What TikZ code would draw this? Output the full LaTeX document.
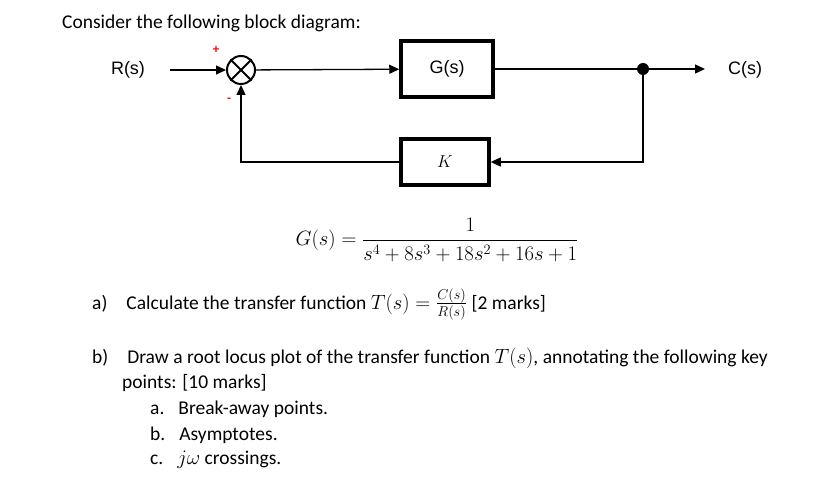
\documentclass[tikz,border=0pt]{standalone}
\usepackage{fontspec}
\usepackage{amsmath}
\setmainfont{Carlito}
\newfontfamily\arialf{Liberation Sans}
\usetikzlibrary{arrows.meta}
\begin{document}
\begin{tikzpicture}[x=1bp,y=-1bp,
  blk/.style={draw,line width=3.5pt,minimum width=92bp,minimum height=56bp,inner sep=0},
  sig/.style={line width=1.3pt,-{Triangle[length=10bp,width=9bp]}},
  txt/.style={font=\fontsize{19.5bp}{22bp}\selectfont,anchor=west,inner sep=0},
  lab/.style={font=\arialf\fontsize{18bp}{21bp}\selectfont,inner sep=0}]
\useasboundingbox (0,0) rectangle (828,504);
\node[txt] (title) at (62,23) {Consider the following block diagram:};
\node[lab] (R) at (128,70) {R(s)};
\node[lab] (C) at (745,70) {C(s)};
\node[draw,circle,line width=2pt,minimum size=28bp,inner sep=0] (sum) at (241,70) {};
\draw[line width=2pt] (sum.45)--(sum.225) (sum.135)--(sum.315);
\node[text=red,font=\bfseries\fontsize{13bp}{13bp}\selectfont] (plus) at (216,50) {+};
\node[text=red,font=\bfseries\fontsize{13bp}{13bp}\selectfont] (minus) at (229,100) {-};
\node[blk] (G) at (447,69) {\arialf\fontsize{18bp}{21bp}\selectfont G(s)};
\node[blk,minimum height=46bp,minimum width=88bp] (K) at (445,162) {\fontsize{16bp}{19bp}\selectfont$K$};
\fill (643,69) circle (6bp) coordinate (dot);
\coordinate (Rout) at (170,70);
\draw[sig] (Rout) -- (sum);
\draw[sig] (sum) -- (G);
\draw[line width=1.3pt] (G) -- (dot);
\draw[sig] (dot) -- (705,69) coordinate (Cin);
\draw[sig] (dot) |- (K);
\draw[sig] (K) -| (sum);
\node[font=\fontsize{19bp}{22bp}\selectfont] (eq) at (437,240) {$G(s)=\dfrac{1}{s^4+8s^3+18s^2+16s+1}$};
\node[txt] (qa) at (92,304) {a)\hspace{19bp}Calculate the transfer function $T(s)=\frac{C(s)}{R(s)}$ [2 marks]};
\node[txt] (qb) at (92,358) {b)\hspace{19bp}Draw a root locus plot of the transfer function $T(s)$, annotating the following key};
\node[txt] (qb2) at (122,383) {points: [10 marks]};
\node[txt] (i1) at (150,409) {a.\hspace{14bp}Break-away points.};
\node[txt] (i2) at (150,435) {b.\hspace{14bp}Asymptotes.};
\node[txt] (i3) at (150,460) {c.\hspace{14bp}$j\omega$ crossings.};
\end{tikzpicture}
\end{document}
